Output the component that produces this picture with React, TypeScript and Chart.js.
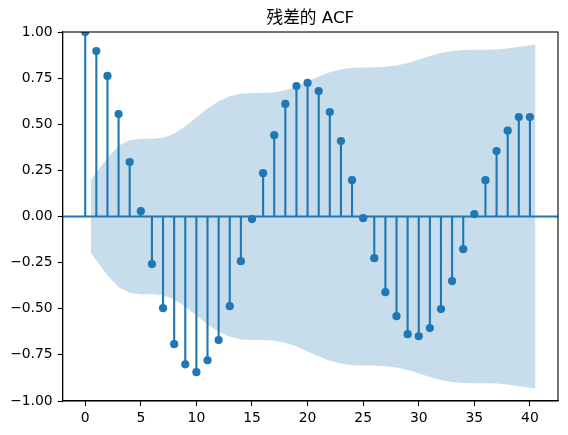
import React, { useEffect, useRef } from "react";
import { Chart, registerables } from "chart.js";

Chart.register(...registerables);

const TITLE = "残差的 ACF";
const LAGS = [
  0, 1, 2, 3, 4, 5, 6, 7, 8, 9, 10, 11, 12, 13, 14, 15, 16, 17, 18, 19, 20,
  21, 22, 23, 24, 25, 26, 27, 28, 29, 30, 31, 32, 33, 34, 35, 36, 37, 38, 39, 40,
];
const ACF = [
  1.0, 0.897, 0.762, 0.555, 0.295, 0.029, -0.258, -0.497, -0.692, -0.801, -0.844,
  -0.779, -0.67, -0.486, -0.242, -0.014, 0.235, 0.441, 0.61, 0.707, 0.724,
  0.68, 0.566, 0.409, 0.197, -0.009, -0.226, -0.41, -0.54, -0.638, -0.649,
  -0.605, -0.502, -0.35, -0.177, 0.013, 0.197, 0.355, 0.465, 0.539, 0.539,
];
// half-width of the confidence band for lags 1..40
const BAND = [
  0.197, 0.318, 0.383, 0.413, 0.421, 0.421, 0.427, 0.449, 0.489, 0.537,
  0.586, 0.625, 0.652, 0.666, 0.67, 0.67, 0.673, 0.684, 0.705, 0.732,
  0.759, 0.782, 0.798, 0.806, 0.808, 0.808, 0.811, 0.819, 0.832, 0.851,
  0.87, 0.886, 0.897, 0.902, 0.904, 0.904, 0.905, 0.911, 0.92, 0.932,
];
const X_TICKS = [0, 5, 10, 15, 20, 25, 30, 35, 40];
const Y_TICKS = [-1, -0.75, -0.5, -0.25, 0, 0.25, 0.5, 0.75, 1];
const X_MIN = -2.025;
const X_MAX = 42.525;

const BLUE = "#1f77b4";
const FONT = "'DejaVu Sans', 'Noto Sans CJK SC', sans-serif";

export default function App() {
  const ref = useRef<HTMLCanvasElement>(null);

  useEffect(() => {
    document.body.style.margin = "0";
    const bandLags = LAGS.slice(1).map((l, i, arr) =>
      i === 0 ? l - 0.5 : i === arr.length - 1 ? l + 0.5 : l
    );
    const upper = bandLags.map((x, i) => ({ x, y: BAND[i] }));
    const lower = bandLags.map((x, i) => ({ x, y: -BAND[i] }));
    const stems: { x: number; y: number | null }[] = [];
    LAGS.forEach((x, i) => {
      stems.push({ x, y: 0 }, { x, y: ACF[i] }, { x, y: null });
    });
    const points = LAGS.map((x, i) => ({ x, y: ACF[i] }));

    const frame = {
      id: "frame",
      afterDraw(chart: any) {
        const { ctx, chartArea } = chart;
        ctx.save();
        ctx.strokeStyle = "#000";
        ctx.lineWidth = 1.1;
        ctx.strokeRect(
          chartArea.left,
          chartArea.top,
          chartArea.right - chartArea.left,
          chartArea.bottom - chartArea.top
        );
        ctx.restore();
      },
    };

    const chart = new Chart(ref.current!, {
      type: "scatter",
      data: {
        datasets: [
          {
            type: "scatter",
            data: points,
            pointRadius: 4.1,
            pointHoverRadius: 4.1,
            backgroundColor: BLUE,
            borderWidth: 0,
            order: 0,
          } as any,
          {
            type: "line",
            data: [
              { x: X_MIN, y: 0 },
              { x: X_MAX, y: 0 },
            ],
            borderColor: BLUE,
            borderWidth: 2.1,
            pointRadius: 0,
            fill: false,
            order: 1,
          },
          {
            type: "line",
            data: stems,
            borderColor: BLUE,
            borderWidth: 2.1,
            borderCapStyle: "butt",
            pointRadius: 0,
            spanGaps: false,
            fill: false,
            order: 2,
          } as any,
          {
            type: "line",
            data: upper,
            borderWidth: 0,
            borderColor: "rgba(0,0,0,0)",
            pointRadius: 0,
            backgroundColor: "rgba(31,119,180,0.25)",
            fill: "+1",
            order: 3,
          },
          {
            type: "line",
            data: lower,
            borderWidth: 0,
            borderColor: "rgba(0,0,0,0)",
            pointRadius: 0,
            fill: false,
            order: 4,
          },
        ],
      },
      options: {
        animation: false,
        responsive: false,
        devicePixelRatio: 1,
        layout: { padding: { left: 0, right: 10, top: 0, bottom: 0 } },
        plugins: {
          legend: { display: false },
          tooltip: { enabled: false },
          title: {
            display: true,
            text: TITLE,
            fullSize: false,
            color: "#000",
            font: { family: FONT, size: 16.67, weight: "normal" },
            padding: { top: 9, bottom: 3 },
          },
        },
        scales: {
          x: {
            type: "linear",
            min: X_MIN,
            max: X_MAX,
            offset: false,
            afterBuildTicks: (s: any) => {
              s.ticks = X_TICKS.map((v) => ({ value: v }));
            },
            afterFit: (s: any) => {
              s.height = 34;
            },
            grid: {
              display: true,
              drawOnChartArea: false,
              drawTicks: true,
              tickLength: 5,
              tickColor: "#000",
              tickWidth: 1.1,
            },
            border: { display: true, color: "#000", width: 1.1 },
            ticks: {
              color: "#000",
              font: { family: FONT, size: 13.9 },
              padding: 4,
              maxRotation: 0,
              callback: (v: any) => String(v),
            },
          },
          y: {
            type: "linear",
            min: -1,
            max: 1,
            afterBuildTicks: (s: any) => {
              s.ticks = Y_TICKS.map((v) => ({ value: v }));
            },
            afterFit: (s: any) => {
              s.width = 62.7;
            },
            grid: {
              display: true,
              drawOnChartArea: false,
              drawTicks: true,
              tickLength: 5,
              tickColor: "#000",
              tickWidth: 1.1,
            },
            border: { display: true, color: "#000", width: 1.1 },
            ticks: {
              color: "#000",
              font: { family: FONT, size: 13.9 },
              padding: 5,
              callback: (v: any) => Number(v).toFixed(2).replace("-", "\u2212"),
            },
          },
        },
      } as any,
      plugins: [frame],
    });
    return () => chart.destroy();
  }, []);

  return (
    <div style={{ width: 568, height: 435 }}>
      <canvas ref={ref} width={568} height={435} />
    </div>
  );
}
